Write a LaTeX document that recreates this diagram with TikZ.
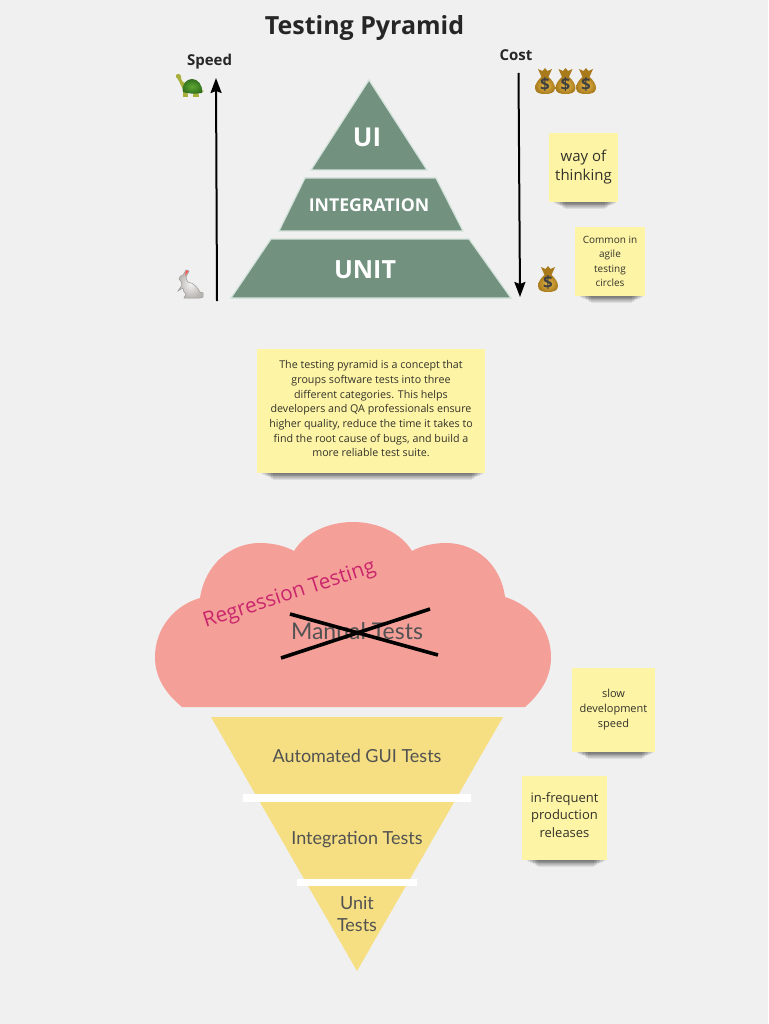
\documentclass[tikz,border=0pt]{standalone}
\usepackage{fontspec}
\setmainfont{Open Sans}
\newfontfamily\latofont{Lato}
\usetikzlibrary{arrows.meta}

\definecolor{pagegray}{HTML}{F0F0F0}
\definecolor{pyrgreen}{HTML}{72917F}
\definecolor{pyredge}{HTML}{D3E2DA}
\definecolor{notebody}{HTML}{FDF4A6}
\definecolor{notetext}{HTML}{33332A}
\definecolor{cloudpink}{HTML}{F59F99}
\definecolor{regpink}{HTML}{C9266C}
\definecolor{funnelyellow}{HTML}{F5DF82}
\definecolor{baggold}{HTML}{E8BC4A}
\definecolor{bagdark}{HTML}{A87A1C}
\definecolor{shellgreen}{HTML}{5FA832}
\definecolor{shelldark}{HTML}{2F6E1E}
\definecolor{skingreen}{HTML}{A8AE3A}
\definecolor{furgray}{HTML}{F4F3F1}
\definecolor{furshade}{HTML}{B9B6B2}

\newcommand{\fsize}[2]{\fontsize{#1}{#2}\selectfont}
\newcommand{\noteshadow}[1]{%
    \foreach \i in {0,...,7}
        \fill[black, opacity=.08] ([xshift=5pt+\i*1.6pt]#1.south west) rectangle ([xshift=-2pt-\i*1.6pt, yshift=-.8pt-\i*.8pt]#1.south east);
}

\begin{document}
\begin{tikzpicture}[x=1pt, y=-1pt]
                \tikzset{pyrpart/.style={fill=pyrgreen, draw=pyredge, line width=1.2pt, line join=miter},
                 pyrtext/.style={text=white, inner sep=0pt, font=\bfseries},
                 axislabel/.style={text=black!85, inner sep=0pt, font=\bfseries\fsize{15}{18}},
                 axisarrow/.style={line width=2pt, -{Stealth[length=15pt, width=11pt, inset=2pt]}},
                 sticky/.style={fill=notebody, text=notetext, inner sep=0pt, align=center},
                 funneltext/.style={text=black!68, inner sep=0pt, align=center, font=\latofont\fsize{18}{21.5}},
                 crossbar/.style={line width=3.6pt},
                 whitebar/.style={fill=white},
                 moneybag/.pic={
                    \shade[inner color=baggold, outer color=bagdark] (-3.5,-4) .. controls (-7,-1) and (-10,3) .. (-10,7) .. controls (-10,12) and (-5,13) .. (0,13) .. controls (5,13) and (10,12) .. (10,7) .. controls (10,3) and (7,-1) .. (3.5,-4) -- cycle;
                    \fill[bagdark] (-3.5,-4) -- (-7,-12) -- (-2.5,-10) -- (0,-13) -- (2.5,-10) -- (7,-12) -- (3.5,-4) -- cycle;
                    \node[inner sep=0pt, text=black!75, font=\bfseries\fsize{17}{20}] at (0,4) {\$};
                 }}

                \fill[pagegray] (0,0) rectangle (768,1024);

                \node[inner sep=0pt, text=black!85, font=\bfseries\fsize{25}{30}] (title) at (364.5,28) {Testing Pyramid};

                % pyramid
                \draw[pyrpart] (369,80) -- (427,170) -- (311,170) -- cycle;
                \draw[pyrpart] (305,178) -- (436,178) -- (463,231) -- (279,231) -- cycle;
                \draw[pyrpart] (271,239) -- (469,239) -- (511,298) -- (231,298) -- cycle;
                \node[pyrtext, font=\bfseries\fsize{26}{30}] (ui) at (367,137.5) {UI};
                \node[pyrtext, font=\bfseries\fsize{17.7}{20}] (integration) at (369,205) {INTEGRATION};
                \node[pyrtext, font=\bfseries\fsize{25}{30}] (unit) at (365,270) {UNIT};

                \node[axislabel] (speed) at (209.5,62) {Speed};
                \node[axislabel] (cost) at (516,55) {Cost};
                \coordinate (speedbot) at (217,301);
                \coordinate (speedtop) at (216,78);
                \coordinate (costtop) at (518.5,73);
                \coordinate (costbot) at (520,297);
                \draw[axisarrow] (speedbot) -- (speedtop);
                \draw[axisarrow] (costtop) -- (costbot);

                % turtle
                \begin{scope}[shift={(189,84)}]
                    \fill[skingreen] (-13,-9) .. controls (-11,-11) and (-8,-10) .. (-8,-7) .. controls (-8,-3) and (-6,-2) .. (-3,0) -- (-6,5) .. controls (-9,1) and (-10,-5) .. (-13,-7) -- cycle;
                    \fill[skingreen] (-6,4) -- (-2,4) -- (-1,13) -- (-6,13) -- cycle;
                    \fill[skingreen] (4,6) -- (9,6) -- (10,13) -- (4,13) -- cycle;
                    \fill[skingreen] (12,6) -- (15,7) -- (12,9) -- cycle;
                    \shade[inner color=shellgreen, outer color=shelldark] (-6,8) .. controls (-8,0) and (-2,-5) .. (3,-5) .. controls (9,-5) and (14,1) .. (13,9) .. controls (6,10) and (0,10) .. (-6,8) -- cycle;
                \end{scope}

                % rabbit
                \begin{scope}[shift={(190,285)}]
                    \shade[inner color=furgray, outer color=furshade, draw=black!40, line width=.5pt] (-11,-6) .. controls (-11,-8) and (-9,-10) .. (-7,-10) -- (-4,-15) -- (-1,-14) -- (-4,-8) .. controls (-4,-6) and (-3,-5) .. (-2,-3) .. controls (4,-2) and (8,3) .. (10,7) -- (13,8) -- (13,12) -- (10,13) -- (-6,13) -- (-4,9) .. controls (-6,7) and (-7,6) .. (-7,3) -- (-12,6) -- (-8,0) .. controls (-8,-2) and (-9,-4) .. (-11,-6) -- cycle;
                    \fill[red!55!pink] (-4,-14.6) -- (-1.5,-13.8) -- (-5,-9) -- cycle;
                \end{scope}

                \foreach \bagx/\bagy in {545/81, 565.5/81, 586/81, 548/279}
                    \pic at (\bagx,\bagy) {moneybag};

                % notes up top
                \node[sticky, minimum width=69pt, minimum height=69pt, font=\fsize{15}{19}] (waynote) at (583.5,167.5) {way of\\thinking};
                \node[sticky, minimum width=70pt, minimum height=69pt, font=\fsize{10}{14.3}] (agilenote) at (610,261.5) {Common in\\agile\\testing\\circles};
                \node[sticky, minimum width=228pt, minimum height=124pt, font=\fsize{10.7}{14.7}] (pyrnote) at (371,411) {The testing pyramid is a concept that\\groups software tests into three\\different categories. This helps\\developers and QA professionals ensure\\higher quality, reduce the time it takes to\\find the root cause of bugs, and build a\\more reliable test suite.\\[-10pt]};
                \noteshadow{waynote}
                \noteshadow{agilenote}
                \noteshadow{pyrnote}

                % cloud
                \fill[cloudpink] (182,707) .. controls (165,693) and (155,677) .. (155,657)
                    .. controls (155,628) and (175,605) .. (200,598)
                    .. controls (205,565) and (230,543) .. (260,543)
                    .. controls (273,543) and (285,546) .. (294,551)
                    .. controls (305,533) and (328,522) .. (353,522)
                    .. controls (378,522) and (401,533) .. (412,551)
                    .. controls (421,546) and (433,543) .. (446,543)
                    .. controls (476,543) and (501,565) .. (505,597)
                    .. controls (531,605) and (551,628) .. (551,657)
                    .. controls (551,677) and (541,693) .. (525,707) -- cycle;

                \node[inner sep=0pt, text=black!68, font=\latofont\fsize{23}{28}] (manual) at (357,631) {Manual Tests};
                \node[inner sep=0pt, text=regpink, rotate=18, font=\fsize{20.8}{24}] (regression) at (289.5,595) {Regression Testing};
                \coordinate (crossa) at (290,614);
                \coordinate (crossb) at (438,655);
                \coordinate (crossc) at (281,658);
                \coordinate (crossd) at (430,609);
                \draw[crossbar] (crossa) -- (crossb);
                \draw[crossbar] (crossc) -- (crossd);

                % funnel
                \fill[funnelyellow] (211,717) -- (503,717) -- (357,971) -- cycle;
                \fill[whitebar] (243,794) rectangle (471,802);
                \fill[whitebar] (297,879) rectangle (417,886);
                \node[funneltext] (gui) at (357,756) {Automated GUI Tests};
                \node[funneltext] (integ) at (357,839.5) {Integration Tests};
                \node[funneltext] (unittests) at (357,914) {Unit\\Tests};

                % notes down below
                \node[sticky, minimum width=83pt, minimum height=84pt, font=\fsize{11}{15}] (slownote) at (613.5,710) {slow\\development\\speed\\[-11pt]};
                \node[sticky, minimum width=85pt, minimum height=84pt, font=\fsize{13}{17.8}] (freqnote) at (564.5,818) {in-frequent\\production\\releases\\[-11.5pt]};
                \noteshadow{slownote}
                \noteshadow{freqnote}
            \end{tikzpicture}
\end{document}
